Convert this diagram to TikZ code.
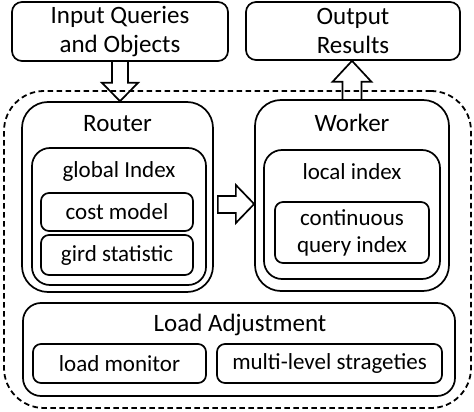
\documentclass[tikz,border=0pt]{standalone}
\usepackage{fontspec}
\setmainfont{Carlito}
\usepackage{tikz}
\usetikzlibrary{calc}
\newcommand{\largefnt}{\fontsize{25}{29}\selectfont}
\newcommand{\smallfnt}{\fontsize{23}{27}\selectfont}

\begin{document}
\begin{tikzpicture}[
    x=1pt, y=-1pt,
    io/.style={draw, line width=1.7pt, rounded corners=10pt, align=center, font=\largefnt, inner sep=0pt},
    module/.style={draw, line width=1.7pt, rounded corners=26pt, inner sep=0pt},
    part/.style={draw, line width=1.7pt, rounded corners=18pt, inner sep=0pt},
    item/.style={draw, line width=1.7pt, rounded corners=8pt, align=center, font=\smallfnt, inner sep=0pt},
    title/.style={font=\largefnt, inner sep=0pt, anchor=base},
    subtitle/.style={font=\smallfnt, inner sep=0pt, anchor=base},
    frame/.style={draw, line width=1.8pt, dash pattern=on 5.5pt off 3.5pt, rounded corners=40pt},
    fatarrow/.style={draw, line width=1.7pt, line join=miter}
]
    \useasboundingbox (0,0) rectangle (474,412);

    % Input and output
    \node[io, minimum width=216pt, minimum height=59pt] (input) at (120,31.5) {Input Queries\\and Objects};
    \node[io, minimum width=214pt, minimum height=58pt] (output) at (353,31) {Output\\Results};

    % System border
    \node[frame, minimum width=467pt, minimum height=317pt] (system) at (237.5,249.5) {};

    % Router
    \node[module, minimum width=191pt, minimum height=190pt] (router) at (117.5,197) {};
    \node[title] (routertitle) at (117.5,131) {Router};
    \node[part, minimum width=174pt, minimum height=137pt] (gindex) at (119,216.5) {};
    \node[subtitle] (gindextitle) at (119,177) {global Index};
    \node[item, minimum width=152pt, minimum height=38pt] (cost) at (117,212) {cost model};
    \node[item, minimum width=152pt, minimum height=40pt] (grid) at (117,255) {gird statistic};

    % Worker
    \node[module, minimum width=194pt, minimum height=191pt] (worker) at (352,195.5) {};
    \node[title] (workertitle) at (352,131) {Worker};
    \node[part, minimum width=176pt, minimum height=129pt] (lindex) at (352,214.5) {};
    \node[subtitle] (lindextitle) at (352,179) {local index};
    \node[item, minimum width=154pt, minimum height=61pt] (cqi) at (352,232.5) {continuous\\query index};

    % Load adjustment
    \node[part, minimum width=432pt, minimum height=93pt] (load) at (239,349.5) {};
    \node[title] (loadtitle) at (240,331) {Load Adjustment};
    \node[item, minimum width=173pt, minimum height=39pt] (monitor) at (119.5,363.5) {load monitor};
    \node[item, minimum width=225pt, minimum height=39pt] (strategy) at (329.5,363.5) {multi-level strageties};

    % Block arrows
    \draw[fatarrow] ($(input.south)+(-8,0)$) -- ++(0,21) -- ++(-10,0) -- (input.south |- router.north) -- ($(input.south)+(18,21)$) -- ++(-10,0) -- ++(0,-21);
    \draw[fatarrow] ($(worker.north)+(-9.5,0)$) -- ($(worker.north |- output.south)+(-9.5,21)$) -- ++(-10,0) -- (worker.north |- output.south) -- ($(worker.north |- output.south)+(19.5,21)$) -- ++(-10,0) -- ($(worker.north)+(9.5,0)$);
    \draw[fatarrow] ($(router.east)+(4,-1)$) -- ++(18,0) -- ++(0,-11) -- ($(worker.west)+(0,8.5)$) -- ($(router.east)+(22,26)$) -- ++(0,-10) -- ++(-18,0) -- cycle;

\end{tikzpicture}
\end{document}
